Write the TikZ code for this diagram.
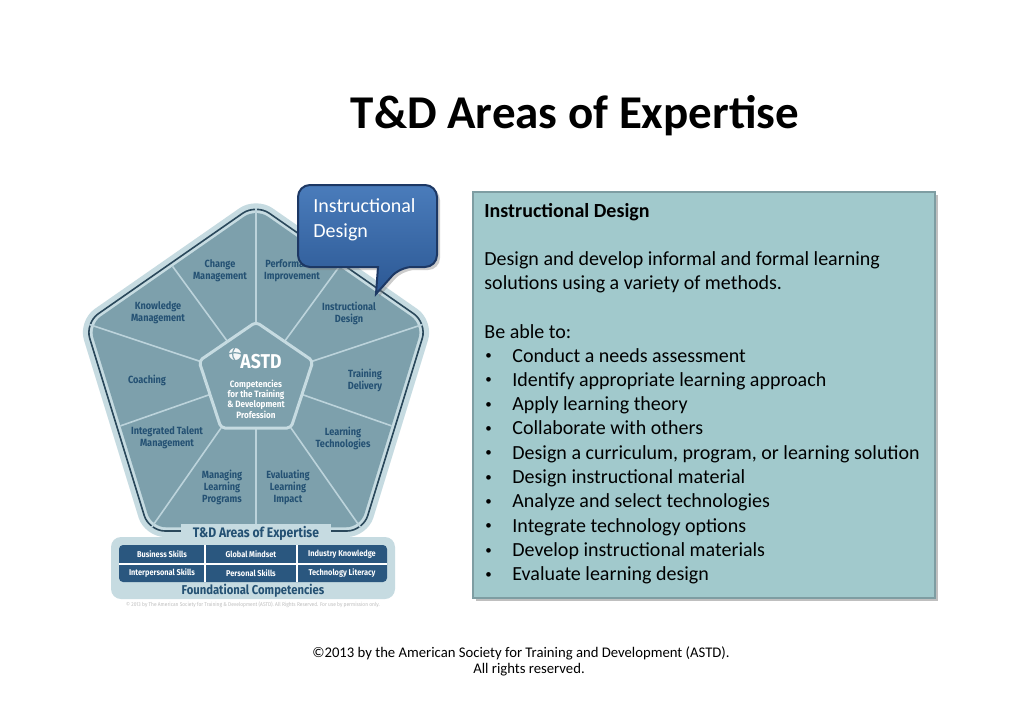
\documentclass[tikz,border=0pt]{standalone}
\usepackage{fontspec}
\setmainfont{Carlito}
\newfontfamily\dinfont{Fira Sans}[FakeStretch=0.88]
\usetikzlibrary{calc,shadows}
\definecolor{areafill}{HTML}{7DA0AC}
\definecolor{bandlight}{HTML}{C6DBE1}
\definecolor{darkline}{HTML}{2A485B}
\definecolor{areatext}{HTML}{245173}
\definecolor{spokecol}{HTML}{BCD3DB}
\definecolor{cellblue}{HTML}{2A577F}
\definecolor{infofill}{HTML}{A1C9CC}
\definecolor{infoedge}{HTML}{7E9DA2}
\definecolor{calltop}{HTML}{4A7CBB}
\definecolor{callbot}{HTML}{2C5894}
\definecolor{callborder}{HTML}{1D3864}

\begin{document}
\begin{tikzpicture}[x=0.5pt,y=-0.5pt,
		every node/.style={inner sep=0pt},
		sector/.style={font=\dinfont\bfseries\fontsize{5.2}{6}\selectfont, text=areatext, align=center},
		cell/.style={font=\dinfont\bfseries\fontsize{4.2}{5}\selectfont, text=white},
		txt/.style={anchor=base west, font=\fontsize{10}{12}\selectfont},
		spoke/.style={draw=spokecol, line width=0.8pt}
	]
	\useasboundingbox (0,0) rectangle (1024,724);
	\fill[white] (0,0) rectangle (1024,724);
	\node[anchor=base, font=\bfseries\fontsize{23.5}{28}\selectfont] (title) at (575,128) {T\&D Areas of Expertise};

	\coordinate (c) at (256,381);
	\foreach \n/\x/\y in {1/256/204, 2/427/323, 3/363/531, 4/149/531, 5/85/323}
		\coordinate (o\n) at (\x,\y);
	\foreach \n/\x/\y in {1/256/322, 2/313/361, 3/291/428, 4/221/428, 5/199/361}
		\coordinate (i\n) at (\x,\y);
	\foreach \n in {1,...,5}
		\coordinate (p\n) at ($(c)!0.975!(o\n)$);

	\fill[bandlight, rounded corners=5pt] (111,537) rectangle (395,599);
	\draw[bandlight, line width=6pt, line join=round, rounded corners=8pt] (o1) -- (o2) -- (o3) -- (o4) -- (o5) -- cycle;
	\draw[darkline, line width=0.8pt, rounded corners=8pt] (o1) -- (o2) -- (o3) -- (o4) -- (o5) -- cycle;
	\fill[areafill, rounded corners=7pt] (p1) -- (p2) -- (p3) -- (p4) -- (p5) -- cycle;
	\foreach \a/\b in {1/2, 2/3, 3/4, 4/5, 5/1}
		{
		   \draw[spoke] (i\a) -- (p\a);
		   \draw[spoke] ($(i\a)!.5!(i\b)$) -- ($(p\a)!.5!(p\b)$);
		};
	\draw[bandlight, line width=1.5pt, fill=areafill, rounded corners=2pt] (i1) -- (i2) -- (i3) -- (i4) -- (i5) -- cycle;

	\node[circle, fill=white!92!areafill, minimum size=6pt] (globe) at (235,354) {};
	\draw[areafill, line width=0.6pt] (globe.north) to[bend right=40] (globe.south);
	\draw[areafill, line width=0.6pt] (globe.west) to[bend left=20] (globe.east);
	\node[font=\dinfont\bfseries\fontsize{10}{10}\selectfont, text=white] (astd) at (261,362) {ASTD};
	\node[font=\dinfont\bfseries\fontsize{4.6}{5.2}\selectfont, text=white, align=center] (comp) at (256,399) {Competencies\\for the Training\\\& Development\\Profession};

	\foreach \x/\y/\t/\n in {220/271/{Change\\Management}/cm, 292/271/{Performance\\Improvement}/pi,
		349/313/{Instructional\\Design}/id, 158/313/{Knowledge\\Management}/km, 147/380/{Coaching}/co,
		365/380/{Training\\Delivery}/td, 167/438/{Integrated Talent\\Management}/it,
		343/438/{Learning\\Technologies}/lt, 222/487/{Managing\\Learning\\Programs}/ml,
		288/487/{Evaluating\\Learning\\Impact}/el}
		{
		   \node[sector] (\n) at (\x,\y) {\t};
		};

	\node[fill=bandlight, inner xsep=6pt, inner ysep=1pt, font=\dinfont\bfseries\fontsize{6.9}{8}\selectfont, text=areatext] (areas) at (256,533) {T\&D Areas of Expertise};
	\fill[cellblue, rounded corners=2pt] (119,545) rectangle (387,582);
	\draw[white, line width=1pt] (119,563.5) -- (387,563.5);
	\foreach \x in {205,297}
		\draw[white, line width=1pt] (\x,545) -- (\x,582);
	\foreach \x/\y/\t/\n in {162/554/Business Skills/bs, 251/554/Global Mindset/gm, 342/554/Industry Knowledge/ik,
		162/573/Interpersonal Skills/ip, 251/573/Personal Skills/ps, 342/573/Technology Literacy/tl}
		{
		   \node[cell] (\n) at (\x,\y) {\t};
		};
	\node[font=\dinfont\bfseries\fontsize{6.4}{8}\selectfont, text=areatext] (found) at (253,591) {Foundational Competencies};
	\node[font=\dinfont\fontsize{2.75}{3}\selectfont, text=black!25] (fine) at (253,605) {\textcopyright\ 2013 by The American Society for Training \& Development (ASTD). All Rights Reserved. For use by permission only.};

	\draw[draw=callborder, line width=1pt, top color=calltop, bottom color=callbot, drop shadow={shadow xshift=1.5pt, shadow yshift=-1.5pt, opacity=0.4}]
		(378,267) [rounded corners=6pt] -- (298,267) -- (298,185) -- (437,185) -- (437,267) -- (400,267) [sharp corners] -- (376,294) -- cycle;
	\node[txt, text=white] (call1) at (313,212) {Instructional};
	\node[txt, text=white] (call2) at (313,237) {Design};

	\draw[draw=infoedge, line width=1pt, fill=infofill, drop shadow={shadow xshift=1.5pt, shadow yshift=-1.5pt, opacity=0.5}] (473,192) rectangle (935,598);
	\node[txt, font=\bfseries\fontsize{10}{12}\selectfont] (head) at (484,217) {Instructional Design};
	\node[txt] (desc1) at (484,265) {Design and develop informal and formal learning};
	\node[txt] (desc2) at (484,289) {solutions using a variety of methods.};
	\node[txt] (able) at (484,338) {Be able to:};
	\foreach \i/\t in {0/Conduct a needs assessment, 1/Identify appropriate learning approach, 2/Apply learning theory,
		3/Collaborate with others, 4/{Design a curriculum, program, or learning solution}, 5/Design instructional material,
		6/Analyze and select technologies, 7/Integrate technology options, 8/Develop instructional materials,
		9/Evaluate learning design}
		{
		   \node[txt] (dot\i) at (485,{362+24.3*\i}) {\raisebox{1.2pt}{\fontsize{6.5}{7}\selectfont •}};
		   \node[txt] (item\i) at (512,{362+24.3*\i}) {\t};
		};

	\node[anchor=base, font=\fontsize{7.35}{8}\selectfont] (foot1) at (521,657) {©2013 by the American Society for Training and Development (ASTD).};
	\node[anchor=base, font=\fontsize{7.35}{8}\selectfont] (foot2) at (529,673) {All rights reserved.};
\end{tikzpicture}
\end{document}
